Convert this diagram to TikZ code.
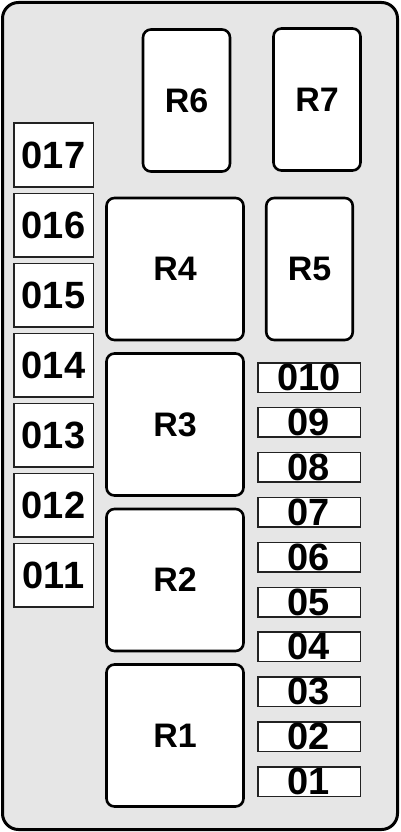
\documentclass[tikz,border=0pt]{standalone}
\usepackage{fontspec}
\setmainfont{Liberation Sans}
\usepackage{tikz}
\usetikzlibrary{positioning}
\usepackage{xcolor}
\definecolor{panelgray}{HTML}{E6E6E6}
\definecolor{fuseline}{HTML}{222222}
\tikzstyle{relay} = [
    rectangle,
    draw=black,
    line width=2.6pt,
    rounded corners=8pt,
    fill=white,
    minimum width=137pt,
    minimum height=142pt,
    font=\fontsize{34}{34}\selectfont\bfseries,
    text centered
]
\tikzstyle{fuse} = [
    rectangle,
    draw=fuseline,
    line width=1.5pt,
    fill=white,
    inner sep=0pt,
    minimum width=79.5pt,
    minimum height=63.5pt,
    font=\fontsize{38}{38}\selectfont\bfseries,
    text centered
]
\tikzstyle{minifuse} = [
    fuse,
    minimum width=102.5pt,
    minimum height=29.5pt
]

\begin{document}
\begin{tikzpicture}[x=1pt, y=-1pt, node distance=70pt]
            \useasboundingbox (0,0) rectangle (400,832);
            \draw[line width=3pt, rounded corners=16pt, fill=panelgray] (2.5,2.5) rectangle (397.5,829.5);

            % relays
            \node[relay, minimum width=87pt, minimum height=142pt] (r6) at (186.5,100.5) {R6};
            \node[relay, minimum width=87pt, minimum height=142pt] (r7) at (317,99.5) {R7};
            \node[relay] (r4) at (175,269) {R4};
            \node[relay, minimum width=86.5pt] (r5) at (309.5,269) {R5};
            \node[relay] (r3) [below of=r4, node distance=155.5pt] {R3};
            \node[relay] (r2) [below of=r3, node distance=155.5pt] {R2};
            \node[relay] (r1) [below of=r2, node distance=155.5pt] {R1};

            % left fuses
            \node[fuse] (f017) at (53.5,155) {017};
            \node[fuse] (f016) [below of=f017] {016};
            \node[fuse] (f015) [below of=f016] {015};
            \node[fuse] (f014) [below of=f015] {014};
            \node[fuse] (f013) [below of=f014] {013};
            \node[fuse] (f012) [below of=f013] {012};
            \node[fuse] (f011) [below of=f012] {011};

            % right fuses
            \node[minifuse] (f010) at (309,377.5) {010};
            \node[minifuse] (f09) [below of=f010, node distance=44.9pt] {09};
            \node[minifuse] (f08) [below of=f09, node distance=44.9pt] {08};
            \node[minifuse] (f07) [below of=f08, node distance=44.9pt] {07};
            \node[minifuse] (f06) [below of=f07, node distance=44.9pt] {06};
            \node[minifuse] (f05) [below of=f06, node distance=44.9pt] {05};
            \node[minifuse] (f04) [below of=f05, node distance=44.9pt] {04};
            \node[minifuse] (f03) [below of=f04, node distance=44.9pt] {03};
            \node[minifuse] (f02) [below of=f03, node distance=44.9pt] {02};
            \node[minifuse] (f01) [below of=f02, node distance=44.9pt] {01};
        \end{tikzpicture}
\end{document}
